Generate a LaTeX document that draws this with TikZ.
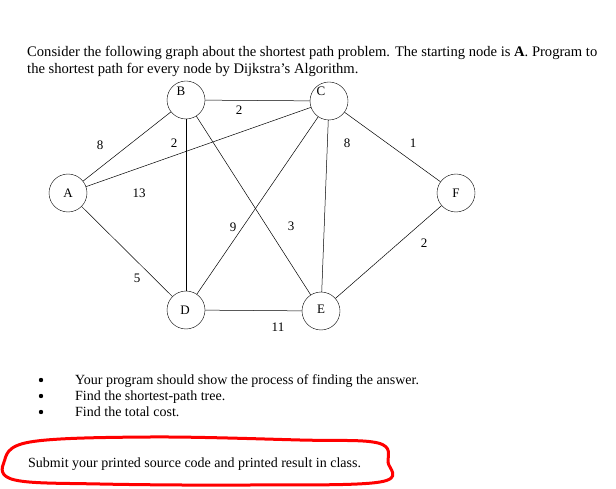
\documentclass[tikz,border=0pt]{standalone}
\usepackage{fontspec}
\setmainfont{Liberation Serif}
\begin{document}
\begin{tikzpicture}[x=1pt,y=-1pt,
  vert/.style={draw,circle,minimum size=38pt,inner sep=0pt,font=\fontsize{13}{15}\selectfont},
  wt/.style={font=\fontsize{13}{15}\selectfont,inner sep=0pt},
  txt/.style={anchor=base west,inner sep=0pt,font=\fontsize{14}{16}\selectfont},
  edge/.style={line width=0.5pt}]
\useasboundingbox (0,0) rectangle (616,489);
\node[txt,font=\fontsize{14.6}{16}\selectfont] (t1) at (27,57) {Consider the following graph about the shortest path problem. The starting node is \textbf{A}. Program to};
\node[txt,font=\fontsize{14.6}{16}\selectfont] (t2) at (27,74) {the shortest path for every node by Dijkstra's Algorithm.};
\node[vert] (A) at (68,193) {A};
\node[vert] (B) at (186,100) {};
\node[vert] (C) at (329,101) {};
\node[vert] (D) at (186,310) {};
\node[vert] (E) at (321,311) {};
\node[vert] (F) at (456,193) {F};
\node[wt] at (181,91) {B};
\node[wt] at (321,91) {C};
\node[wt] at (185,310) {D};
\node[wt] at (321,309) {E};
\draw[edge] (A) -- (B);
\draw[edge] (A) -- (C);
\draw[edge] (A) -- (D);
\draw[edge] (B) -- (C);
\draw[edge] (B) -- (D);
\draw[edge] (B) -- (E);
\draw[edge] (C) -- (D);
\draw[edge] (C) -- (E);
\draw[edge] (C) -- (F);
\draw[edge] (D) -- (E);
\draw[edge] (E) -- (F);
\node[wt] (w1) at (100,145) {8};
\node[wt] (w2) at (239,110) {2};
\node[wt] (w3) at (174,143) {2};
\node[wt] (w4) at (347,143) {8};
\node[wt] (w5) at (413,143) {1};
\node[wt] (w6) at (139,193) {13};
\node[wt] (w7) at (233,227) {9};
\node[wt] (w8) at (291,226) {3};
\node[wt] (w9) at (424,243) {2};
\node[wt] (w10) at (137,278) {5};
\node[wt] (w11) at (278,327) {11};
\foreach \yy/\s [count=\i] in {384/Your program should show the process of finding the answer.,400/Find the shortest-path tree.,416/Find the total cost.}{
  \fill (41,\yy-4) circle (2.2pt);
  \node[txt] (b\i) at (75,\yy) {\s};
}
\node[txt] (sub) at (28,467) {Submit your printed source code and printed result in class.};
\draw[red,line width=3pt,line cap=round] plot[smooth cycle,tension=0.6] coordinates {
 (4,462) (30,442) (150,437) (300,440) (378,443) (388,462) (380,482) (250,485) (100,484) (15,480)};
\end{tikzpicture}
\end{document}
